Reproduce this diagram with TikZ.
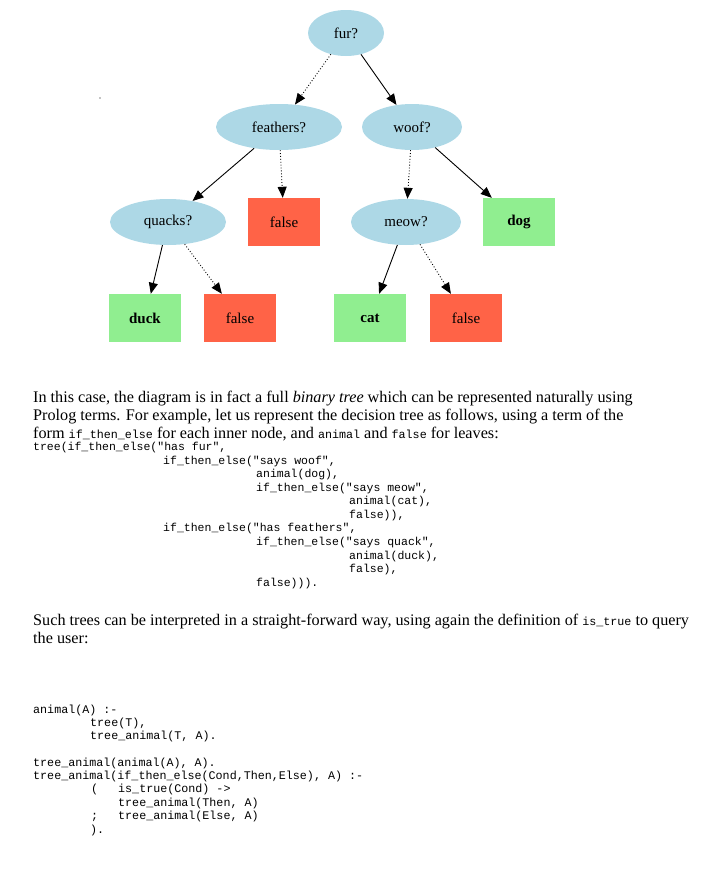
\documentclass[tikz,border=0pt]{standalone}
\usepackage{fontspec}
\setmainfont{Liberation Serif}
\setmonofont{Liberation Mono}
\usetikzlibrary{shapes.geometric,arrows.meta}
\newcommand{\ic}[1]{{\ttfamily\fontsize{11.7}{12}\selectfont #1}}
\begin{document}
\begin{tikzpicture}[x=1pt,y=-1pt,
  q/.style={ellipse,fill={rgb,255:red,173;green,216;blue,230},inner sep=0pt,font=\fontsize{15}{17}\selectfont},
  yes/.style={rectangle,fill={rgb,255:red,144;green,238;blue,144},minimum width=72pt,minimum height=48pt,font=\bfseries\fontsize{15}{17}\selectfont},
  no/.style={rectangle,fill={rgb,255:red,255;green,99;blue,71},minimum width=72pt,minimum height=48pt,font=\fontsize{15}{17}\selectfont},
  e/.style={-{Triangle[length=11pt,width=9pt]},line width=0.9pt},
  d/.style={e,dotted},
  t/.style={anchor=base west,inner sep=0pt,font=\fontsize{16.2}{18}\selectfont},
  c/.style={anchor=base west,inner sep=0pt,font=\ttfamily\fontsize{11.5}{12}\selectfont},
  cc/.style={anchor=base west,inner sep=0pt,font=\ttfamily\fontsize{11.7}{13}\selectfont}]
\useasboundingbox (0,0) rectangle (723,878);
\node[q,minimum width=76pt,minimum height=46pt] (fur) at (346,33) {fur?};
\node[q,minimum width=126pt,minimum height=46pt] (fea) at (279,127) {feathers?};
\node[q,minimum width=100pt,minimum height=46pt] (woof) at (412,127) {woof?};
\node[q,minimum width=116pt,minimum height=46pt] (qua) at (168,222) {quacks?};
\node[q,minimum width=110pt,minimum height=46pt] (meow) at (406,222) {meow?};
\node[no] (f1) at (284,222) {false};
\node[yes] (dog) at (519,222) {dog};
\node[yes] (duck) at (145,318) {duck};
\node[no] (f2) at (240,318) {false};
\node[yes] (cat) at (370,318) {cat};
\node[no] (f3) at (466,318) {false};
\draw[d] (fur) -- (fea);
\draw[e] (fur) -- (woof);
\draw[e] (fea) -- (qua);
\draw[d] (fea) -- (f1);
\draw[d] (woof) -- (meow);
\draw[e] (woof) -- (dog);
\draw[e] (qua) -- (duck);
\draw[d] (qua) -- (f2);
\draw[e] (meow) -- (cat);
\draw[d] (meow) -- (f3);
\fill (100,98) circle (0.6pt);
\node[t] (p1) at (33,402) {In this case, the diagram is in fact a full \textit{binary tree} which can be represented naturally using};
\node[t] (p2) at (33,420) {Prolog terms. For example, let us represent the decision tree as follows, using a term of the};
\node[t] (p3) at (33,438) {form \ic{if\_then\_else} for each inner node, and \ic{animal} and \ic{false} for leaves:};
\node[c] (c1) at (33,450) {tree(if\_then\_else("has fur",};
\node[c] (c2) at (163,464) {if\_then\_else("says woof",};
\node[c] (c3) at (256,477) {animal(dog),};
\node[c] (c4) at (256,491) {if\_then\_else("says meow",};
\node[c] (c5) at (349,504) {animal(cat),};
\node[c] (c6) at (349,518) {false)),};
\node[c] (c7) at (163,531) {if\_then\_else("has feathers",};
\node[c] (c8) at (256,545) {if\_then\_else("says quack",};
\node[c] (c9) at (349,559) {animal(duck),};
\node[c] (c10) at (349,572) {false),};
\node[c] (c11) at (256,586) {false))).};
\node[t] (s1) at (33,625) {Such trees can be interpreted in a straight-forward way, using again the definition of \ic{is\_true} to query};
\node[t] (s2) at (33,643) {the user:};
\node[cc] (d1) at (33,713) {animal(A) :-};
\node[cc] (d2) at (90,726) {tree(T),};
\node[cc] (d3) at (90,739) {tree\_animal(T, A).};
\node[cc] (d4) at (33,766) {tree\_animal(animal(A), A).};
\node[cc] (d5) at (33,779) {tree\_animal(if\_then\_else(Cond,Then,Else), A) :-};
\node[cc] (d6a) at (91,792) {(};
\node[cc] (d6) at (118,792) {is\_true(Cond) -{}>};
\node[cc] (d7) at (118,806) {tree\_animal(Then, A)};
\node[cc] (d8a) at (91,819) {;};
\node[cc] (d8) at (118,819) {tree\_animal(Else, A)};
\node[cc] (d9) at (90,833) {).};
\end{tikzpicture}
\end{document}
